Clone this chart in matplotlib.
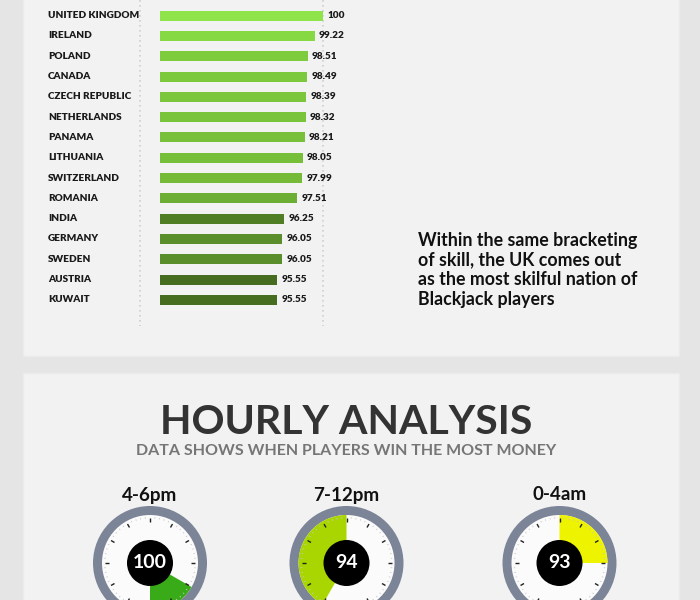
import matplotlib
matplotlib.use("Agg")
import matplotlib.pyplot as plt
from matplotlib.patches import Rectangle, Circle, Wedge
import matplotlib.transforms as mtransforms
import numpy as np

# ---- data ----
countries = ["UNITED KINGDOM", "IRELAND", "POLAND", "CANADA", "CZECH REPUBLIC",
             "NETHERLANDS", "PANAMA", "LITHUANIA", "SWITZERLAND", "ROMANIA",
             "INDIA", "GERMANY", "SWEDEN", "AUSTRIA", "KUWAIT"]
scores = [100, 99.22, 98.51, 98.49, 98.39, 98.32, 98.21, 98.05, 97.99, 97.51,
          96.25, 96.05, 96.05, 95.55, 95.55]
score_labels = ["100", "99.22", "98.51", "98.49", "98.39", "98.32", "98.21", "98.05",
                "97.99", "97.51", "96.25", "96.05", "96.05", "95.55", "95.55"]
bar_colors = ["#8fe34b", "#87d944", "#7ecb3e", "#7dc93d", "#7bc63c", "#7ac43b",
              "#78c03a", "#77be39", "#75bb38", "#6cad33", "#4f7e25", "#5a8e2a",
              "#5a8e2a", "#466d1f", "#466d1f"]

note_text = ("Within the same bracketing\nof skill, the UK comes out\n"
             "as the most skilful nation of\nBlackjack players")

title = "HOURLY ANALYSIS"
subtitle = "DATA SHOWS WHEN PLAYERS WIN THE MOST MONEY"
periods = ["4-6pm", "7-12pm", "0-4am"]
period_scores = ["100", "94", "93"]
wedge_start_hour = [4, 7, 0]
wedge_end_hour = [6, 12, 3]
wedge_colors = ["#3aab18", "#a9d600", "#eef300"]

# ---- figure ----
W, H = 700, 600
fig = plt.figure(figsize=(7, 6), dpi=100)
fig.patch.set_facecolor("#e5e5e5")
bg = fig.add_axes([0, 0, 1, 1])
bg.set_xlim(0, W)
bg.set_ylim(H, 0)
bg.axis("off")
bg.set_facecolor("none")

FONT = "Lato"

# panels
bg.add_patch(Rectangle((23, -10), 656, 366, fc="#f2f2f2", ec="#ebebeb", lw=1, zorder=0))
bg.add_patch(Rectangle((23, 373), 656, 300, fc="#f2f2f2", ec="#ebebeb", lw=1, zorder=0))

# dotted guides
for xg in (140, 323):
    bg.plot([xg, xg], [0, 326], ls=(0, (1, 2)), color="#cfcfcf", lw=1.2, zorder=1)

# ---- bar chart axes ----
top_px, bottom_px = 5.5, 310
left_px, right_px = 160, 323
base = 84.2
ax = fig.add_axes([left_px / W, 1 - bottom_px / H, (right_px - left_px) / W,
                   (bottom_px - top_px) / H])
ax.set_facecolor("none")
ax.set_xlim(base, 100)
n = len(countries)
ax.set_ylim(n - 0.5, -0.5)
ax.axis("off")
ypos = np.arange(n)
ax.barh(ypos, np.array(scores) - base, left=base, height=0.49, color=bar_colors, zorder=2)

lab_tr = mtransforms.blended_transform_factory(bg.transData, ax.transData)
for i, (c, v, s) in enumerate(zip(countries, scores, score_labels)):
    ax.text(48, i, c, transform=lab_tr, ha="left", va="center", fontsize=7.2,
            fontweight="heavy", family=FONT, color="#1a1a1a")
    ax.annotate(s, (v, i), xytext=(3, 0), textcoords="offset points", ha="left",
                va="center", fontsize=7.2, fontweight="heavy", family=FONT,
                color="#1a1a1a", annotation_clip=False)

# note
bg.text(418, 270, note_text, ha="left", va="center", fontsize=12.8, fontweight="bold",
        family=FONT, color="#111111", linespacing=1.2)

# ---- hourly analysis ----
bg.text(346, 422, title, ha="center", va="center", fontsize=29.5, fontweight="bold",
        family=FONT, color="#333333")
bg.text(346, 451, subtitle, ha="center", va="center", fontsize=11.5, fontweight="bold",
        family=FONT, color="#767676")

centers = [150, 346.5, 559.5]
cy = 563
for cx, lab, sc, h0, h1, wc in zip(centers, periods, period_scores,
                                   wedge_start_hour, wedge_end_hour, wedge_colors):
    bg.text(cx, 495, lab, ha="center", va="center", fontsize=13.5, fontweight="bold",
            family=FONT, color="#111111")
    bg.add_patch(Circle((cx, cy), 57, fc="#7c8598", ec="none", zorder=2))
    bg.add_patch(Circle((cx, cy), 48, fc="#fbfbfb", ec="none", zorder=3))
    # y axis is inverted in bg, so angles are mirrored: use negative angles
    a_start = -(90 - 30 * h0)
    a_end = -(90 - 30 * h1)
    bg.add_patch(Wedge((cx, cy), 48, a_start, a_end, fc=wc, ec="none", zorder=4))
    for k in range(60):
        ang = np.deg2rad(k * 6)
        if k % 5 == 0:
            r0, r1, col, lw = 41, 45, "#222222", 1.0
        else:
            r0, r1, col, lw = 44.5, 46, "#c8c8c8", 0.6
        bg.plot([cx + r0 * np.sin(ang), cx + r1 * np.sin(ang)],
                [cy - r0 * np.cos(ang), cy - r1 * np.cos(ang)],
                color=col, lw=lw, zorder=5, solid_capstyle="butt")
    bg.add_patch(Circle((cx, cy), 23, fc="#000000", ec="none", zorder=6))
    bg.text(cx, cy, sc, ha="center", va="center", fontsize=14, fontweight="bold",
            family=FONT, color="white", zorder=7)

fig.savefig("out.png", dpi=100, facecolor=fig.get_facecolor())
